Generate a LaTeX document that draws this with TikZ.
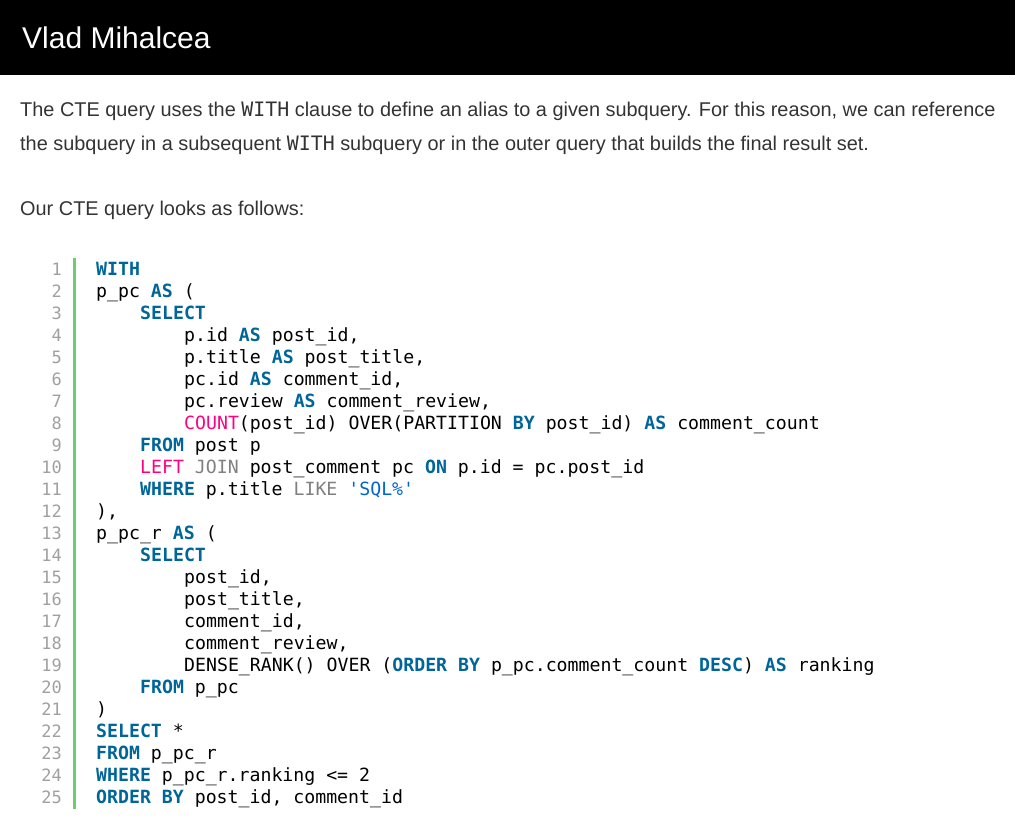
\documentclass[tikz,border=0pt]{standalone}
\usepackage{fontspec}
\setmainfont{Liberation Sans}
\setmonofont{DejaVu Sans Mono}
\definecolor{kw}{RGB}{0,102,153}
\definecolor{fn}{RGB}{255,0,128}
\definecolor{gy}{RGB}{128,128,128}
\definecolor{st}{RGB}{0,102,204}
\definecolor{bodytxt}{RGB}{51,51,51}
\definecolor{lnum}{RGB}{160,160,160}
\definecolor{bar}{RGB}{108,206,108}
\newcommand{\kw}[1]{\textcolor{kw}{\bfseries #1}}
\newcommand{\fnc}[1]{\textcolor{fn}{#1}}
\newcommand{\gyc}[1]{\textcolor{gy}{#1}}
\newcommand{\stc}[1]{\textcolor{st}{#1}}
\begin{document}
\begin{tikzpicture}[x=1pt,y=-1pt,
  para/.style={anchor=base west,inner sep=0pt,text=bodytxt,font=\fontsize{19.9}{22}\selectfont},
  code/.style={anchor=base west,inner sep=0pt,font=\ttfamily\fontsize{18.2}{22}\selectfont},
  num/.style={anchor=base east,inner sep=0pt,text=lnum,font=\ttfamily\fontsize{17}{22}\selectfont}]
\useasboundingbox (0,0) rectangle (1015,833);
\fill[black] (0,0) rectangle (1015,75);
\node[anchor=base west,inner sep=0pt,text=white,font=\fontsize{30}{34}\selectfont] (title) at (22,48) {Vlad Mihalcea};
\node[para] (p1) at (20,116) {The CTE query uses the \texttt{WITH} clause to define an alias to a given subquery. For this reason, we can reference};
\node[para] (p2) at (20,150) {the subquery in a subsequent \texttt{WITH} subquery or in the outer query that builds the final result set.};
\node[para] (p3) at (20,215) {Our CTE query looks as follows:};
\fill[bar] (73,258) rectangle (76,809);
\foreach \i in {1,...,25} {\node[num] (n\i) at (62,{275+22.04*(\i-1)}) {\i};}
\def\L#1#2#3{\node[code] (c#1) at ({96+11*#2},{275+22.04*(#1-1)}) {#3};}
\L{1}{0}{\kw{WITH}}
\L{2}{0}{p\_pc \kw{AS} (}
\L{3}{4}{\kw{SELECT}}
\L{4}{8}{p.id \kw{AS} post\_id,}
\L{5}{8}{p.title \kw{AS} post\_title,}
\L{6}{8}{pc.id \kw{AS} comment\_id,}
\L{7}{8}{pc.review \kw{AS} comment\_review,}
\L{8}{8}{\fnc{COUNT}(post\_id) OVER(PARTITION \kw{BY} post\_id) \kw{AS} comment\_count}
\L{9}{4}{\kw{FROM} post p}
\L{10}{4}{\fnc{LEFT} \gyc{JOIN} post\_comment pc \kw{ON} p.id = pc.post\_id}
\L{11}{4}{\kw{WHERE} p.title \gyc{LIKE} \stc{'SQL\%'}}
\L{12}{0}{),}
\L{13}{0}{p\_pc\_r \kw{AS} (}
\L{14}{4}{\kw{SELECT}}
\L{15}{8}{post\_id,}
\L{16}{8}{post\_title,}
\L{17}{8}{comment\_id,}
\L{18}{8}{comment\_review,}
\L{19}{8}{DENSE\_RANK() OVER (\kw{ORDER} \kw{BY} p\_pc.comment\_count \kw{DESC}) \kw{AS} ranking}
\L{20}{4}{\kw{FROM} p\_pc}
\L{21}{0}{)}
\L{22}{0}{\kw{SELECT} *}
\L{23}{0}{\kw{FROM} p\_pc\_r}
\L{24}{0}{\kw{WHERE} p\_pc\_r.ranking <= 2}
\L{25}{0}{\kw{ORDER} \kw{BY} post\_id, comment\_id}
\end{tikzpicture}
\end{document}
